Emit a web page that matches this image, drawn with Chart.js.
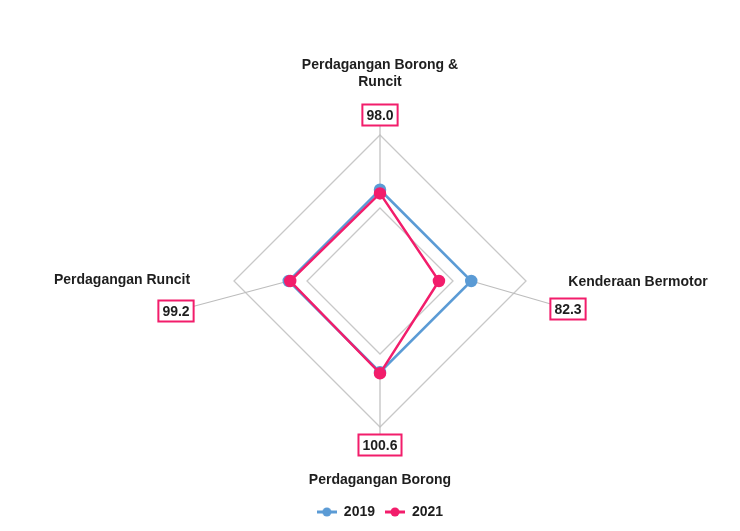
<!DOCTYPE html>
<html lang="ms">
<head>
    <meta charset="UTF-8">
    <title>Radar Chart</title>
    <script src="https://cdn.jsdelivr.net/npm/chart.js"></script>
    <style>
        html, body { margin: 0; padding: 0; background: #fff; }
        #wrap { width: 740px; height: 531px; }
    </style>
</head>
<body>
    <div id="wrap"><canvas id="myChart" width="740" height="531"></canvas></div>

    <script>
        // data
        const categories = [
            ['Perdagangan Borong &', 'Runcit'],
            'Kenderaan Bermotor',
            'Perdagangan Borong',
            'Perdagangan Runcit'
        ];
        const seriesLabels = ['2019', '2021'];
        const values2019 = [100, 100, 100, 100];
        const values2021 = [98.0, 82.3, 100.6, 99.2];
        const scaleMin = 50;
        const scaleMax = 130;
        const scaleStep = 40;

        const BLUE = '#5B9BD5';
        const PINK = '#F21D6B';
        const TEXT = '#1e1e1e';
        const FONT = 'bold 14px "Liberation Sans", Arial, sans-serif';

        // offsets from each outer vertex: value box and category label
        const labelLayout = [
            { box: [0, -20], text: [0, -53] },
            { box: [42, 28], text: [112, 1] },
            { box: [0, 18], text: [0, 53] },
            { box: [-58, 30], text: [-112, -1] }
        ];

        function legendMarker(color) {
            const c = document.createElement('canvas');
            c.width = 20;
            c.height = 12;
            const g = c.getContext('2d');
            g.strokeStyle = color;
            g.lineWidth = 3;
            g.beginPath();
            g.moveTo(0, 6);
            g.lineTo(20, 6);
            g.stroke();
            g.fillStyle = color;
            g.beginPath();
            g.arc(10, 6, 4.5, 0, Math.PI * 2);
            g.fill();
            return c;
        }
        const markers = [legendMarker(BLUE), legendMarker(PINK)];

        function boxCenter(scale, i) {
            const v = scale.getPointPositionForValue(i, scaleMax);
            return { x: v.x + labelLayout[i].box[0], y: v.y + labelLayout[i].box[1] };
        }

        const labelPlugin = {
            id: 'radarLabels',
            beforeDatasetsDraw(chart) {
                const scale = chart.scales.r;
                const ctx = chart.ctx;
                ctx.save();
                ctx.strokeStyle = '#bdbdbd';
                ctx.lineWidth = 1.2;
                categories.forEach((_, i) => {
                    const outer = Math.max(values2019[i], values2021[i]);
                    const p = scale.getPointPositionForValue(i, outer);
                    const b = boxCenter(scale, i);
                    ctx.beginPath();
                    ctx.moveTo(b.x, b.y);
                    ctx.lineTo(p.x, p.y);
                    ctx.stroke();
                });
                ctx.restore();
            },
            afterDraw(chart) {
                const scale = chart.scales.r;
                const ctx = chart.ctx;
                ctx.save();
                ctx.font = FONT;
                ctx.textBaseline = 'middle';
                ctx.textAlign = 'center';
                categories.forEach((cat, i) => {
                    const v = scale.getPointPositionForValue(i, scaleMax);
                    // category name
                    const lines = Array.isArray(cat) ? cat : [cat];
                    const tx = v.x + labelLayout[i].text[0];
                    const ty = v.y + labelLayout[i].text[1];
                    ctx.fillStyle = TEXT;
                    lines.forEach((line, k) => {
                        let y = ty + k * 17;
                        if (labelLayout[i].text[1] < 0) y = ty - (lines.length - 1 - k) * 17;
                        ctx.fillText(line, tx, y);
                    });
                    // value box
                    const label = values2021[i].toFixed(1);
                    const b = boxCenter(scale, i);
                    const w = ctx.measureText(label).width + 8;
                    const h = 21;
                    ctx.fillStyle = '#fff';
                    ctx.fillRect(b.x - w / 2, b.y - h / 2, w, h);
                    ctx.strokeStyle = PINK;
                    ctx.lineWidth = 2;
                    ctx.strokeRect(b.x - w / 2, b.y - h / 2, w, h);
                    ctx.fillStyle = TEXT;
                    ctx.fillText(label, b.x, b.y + 1);
                });
                ctx.restore();
            }
        };

        const ctx = document.getElementById('myChart').getContext('2d');
        new Chart(ctx, {
            type: 'radar',
            data: {
                labels: categories,
                datasets: [{
                    label: seriesLabels[0],
                    data: values2019,
                    borderColor: BLUE,
                    backgroundColor: BLUE,
                    pointBackgroundColor: BLUE,
                    pointBorderColor: BLUE,
                    borderWidth: 2.5,
                    pointRadius: 5,
                    fill: false,
                    order: 1
                }, {
                    label: seriesLabels[1],
                    data: values2021,
                    borderColor: PINK,
                    backgroundColor: PINK,
                    pointBackgroundColor: PINK,
                    pointBorderColor: PINK,
                    borderWidth: 2.5,
                    pointRadius: 5,
                    fill: false,
                    order: 0
                }]
            },
            options: {
                responsive: false,
                animation: false,
                layout: {
                    padding: { top: 67, left: 234, right: 214, bottom: 2 }
                },
                scales: {
                    r: {
                        min: scaleMin,
                        max: scaleMax,
                        beginAtZero: false,
                        ticks: { display: false, stepSize: scaleStep },
                        grid: { color: '#c8c8c8', lineWidth: 1.3 },
                        angleLines: { display: false },
                        pointLabels: { display: false }
                    }
                },
                plugins: {
                    tooltip: { enabled: false },
                    legend: {
                        position: 'bottom',
                        labels: {
                            usePointStyle: true,
                            pointStyleWidth: 20,
                            padding: 10,
                            color: TEXT,
                            font: { family: '"Liberation Sans", Arial, sans-serif', size: 14, weight: 'bold' },
                            sort: (a, b) => a.datasetIndex - b.datasetIndex,
                            generateLabels(chart) {
                                const items = Chart.defaults.plugins.legend.labels.generateLabels(chart);
                                items.forEach(item => {
                                    item.pointStyle = markers[item.datasetIndex];
                                });
                                return items;
                            }
                        }
                    }
                }
            },
            plugins: [labelPlugin]
        });
    </script>
</body>
</html>
